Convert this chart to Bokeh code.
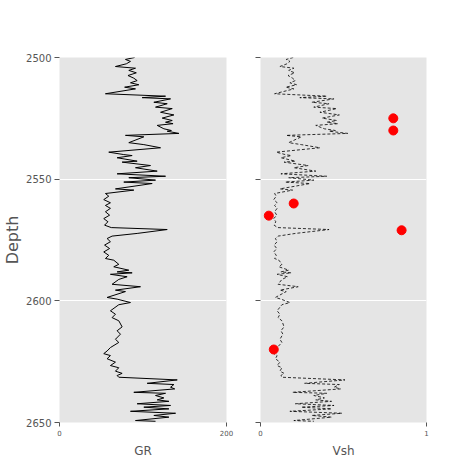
from bokeh.plotting import figure
from bokeh.layouts import row
from bokeh.models import Range1d, FixedTicker
from bokeh.embed import file_html
from bokeh.resources import INLINE

# ---- data ----
depth = [2500.0, 2500.8, 2501.6, 2502.6, 2503.7, 2504.4, 2505.3, 2506.3, 2507.4, 2508.5,
         2509.5, 2510.4, 2511.2, 2512.2, 2512.9, 2514.9, 2515.9, 2516.5, 2517.0, 2518.4,
         2519.0, 2520.4, 2521.0, 2522.5, 2523.6, 2524.9, 2525.9, 2526.6, 2527.2, 2527.9,
         2529.3, 2530.0, 2530.3, 2531.2, 2532.0, 2532.6, 2535.0, 2535.8, 2537.1, 2538.9,
         2539.9, 2540.3, 2541.2, 2542.6, 2543.0, 2544.4, 2545.3, 2546.7, 2547.8, 2548.8,
         2549.4, 2550.4, 2551.2, 2551.8, 2554.0, 2554.5, 2555.9, 2557.0, 2558.4, 2559.7,
         2560.8, 2562.0, 2563.4, 2564.8, 2566.2, 2567.5, 2568.9, 2569.9, 2570.7, 2572.3,
         2573.4, 2574.4, 2575.7, 2577.1, 2578.5, 2579.9, 2581.3, 2582.6, 2583.3, 2585.0,
         2586.0, 2587.4, 2588.1, 2588.5, 2589.1, 2590.1, 2591.2, 2593.2, 2594.2, 2595.6,
         2596.2, 2598.6, 2599.3, 2600.7, 2601.6, 2604.1, 2605.5, 2606.9, 2608.2, 2610.7,
         2612.3, 2613.7, 2615.8, 2617.1, 2619.2, 2620.6, 2621.7, 2622.5, 2623.8, 2625.2,
         2626.6, 2627.5, 2628.9, 2629.8, 2630.7, 2631.4, 2632.5, 2633.9, 2634.4, 2635.5,
         2636.2, 2637.6, 2638.0, 2638.9, 2639.9, 2640.7, 2641.3, 2642.3, 2643.0, 2643.7,
         2644.4, 2645.4, 2646.2, 2647.1, 2647.8, 2649.2, 2649.5]

gr = [90, 79, 85, 80, 67, 91, 83, 92, 82, 89,
      93, 85, 95, 78, 91, 55, 127, 99, 133, 113,
      129, 115, 135, 121, 137, 123, 135, 127, 136, 117,
      125, 134, 129, 143, 79, 101, 83, 101, 121, 59,
      77, 87, 69, 93, 75, 109, 91, 117, 69, 127,
      83, 115, 77, 111, 67, 89, 55, 59, 53, 61,
      55, 61, 55, 60, 53, 58, 54, 62, 129, 93,
      63, 57, 61, 54, 60, 53, 59, 55, 65, 71,
      65, 83, 69, 87, 61, 81, 71, 63, 97, 67,
      79, 57, 69, 85, 71, 61, 67, 63, 71, 75,
      69, 73, 67, 71, 61, 57, 53, 61, 57, 67,
      61, 71, 67, 75, 69, 71, 141, 105, 137, 133,
      138, 89, 127, 115, 125, 117, 131, 93, 133, 101,
      131, 85, 139, 113, 131, 91, 115]

vsh = [0.197, 0.155, 0.177, 0.159, 0.117, 0.201, 0.170, 0.206, 0.166, 0.193,
       0.210, 0.177, 0.218, 0.152, 0.201, 0.085, 0.399, 0.237, 0.443, 0.309,
       0.413, 0.321, 0.459, 0.358, 0.475, 0.371, 0.459, 0.399, 0.467, 0.333,
       0.385, 0.451, 0.413, 0.526, 0.155, 0.246, 0.170, 0.246, 0.358, 0.095,
       0.149, 0.185, 0.123, 0.210, 0.142, 0.287, 0.201, 0.333, 0.123, 0.399,
       0.170, 0.321, 0.149, 0.298, 0.117, 0.193, 0.085, 0.095, 0.080, 0.100,
       0.085, 0.100, 0.085, 0.098, 0.080, 0.092, 0.082, 0.103, 0.413, 0.210,
       0.106, 0.090, 0.100, 0.082, 0.098, 0.080, 0.095, 0.085, 0.111, 0.129,
       0.111, 0.170, 0.123, 0.185, 0.100, 0.163, 0.129, 0.106, 0.227, 0.117,
       0.155, 0.090, 0.123, 0.177, 0.129, 0.100, 0.117, 0.106, 0.129, 0.142,
       0.123, 0.135, 0.117, 0.129, 0.100, 0.090, 0.080, 0.100, 0.090, 0.117,
       0.100, 0.129, 0.117, 0.142, 0.123, 0.129, 0.509, 0.266, 0.475, 0.443,
       0.483, 0.193, 0.399, 0.321, 0.385, 0.333, 0.428, 0.210, 0.443, 0.246,
       0.428, 0.177, 0.491, 0.309, 0.428, 0.201, 0.321]

core_vsh = [0.80, 0.80, 0.20, 0.05, 0.85, 0.08]
core_depth = [2525, 2530, 2560, 2565, 2571, 2620]

depth_ticks = [2500, 2550, 2600, 2650]
gr_ticks = [0, 200]
vsh_ticks = [0, 1]

TXT = "#555555"
FONT = "DejaVu Sans"


def style(p, xticks):
    p.background_fill_color = "#E5E5E5"
    p.border_fill_color = "white"
    p.outline_line_color = None
    p.xaxis.ticker = FixedTicker(ticks=xticks)
    p.yaxis.ticker = FixedTicker(ticks=depth_ticks)
    p.xgrid.grid_line_color = None
    p.ygrid.grid_line_color = "white"
    p.ygrid.grid_line_width = 1.2
    for ax in (p.xaxis[0], p.yaxis[0]):
        ax.axis_line_color = None
        ax.major_tick_line_color = TXT
        ax.major_tick_in = 0
        ax.minor_tick_line_color = None
        ax.major_label_text_color = TXT
        ax.major_label_text_font = FONT
        ax.axis_label_text_color = TXT
        ax.axis_label_text_font = FONT
        ax.axis_label_text_font_style = "normal"
    p.xaxis.major_tick_out = 4
    p.xaxis.major_label_standoff = 3
    p.xaxis.major_label_text_font_size = "7px"
    p.xaxis.axis_label_text_font_size = "12px"
    p.xaxis.axis_label_standoff = 5
    p.yaxis.major_tick_out = 5
    p.yaxis.major_label_standoff = 3
    p.yaxis.major_label_text_font_size = "10px"


p1 = figure(width=236, height=466, x_range=Range1d(0, 200), y_range=Range1d(2650, 2500),
            output_backend="svg", toolbar_location=None,
            min_border_left=59, min_border_right=10, min_border_top=57, min_border_bottom=44)
style(p1, gr_ticks)
p1.xaxis.axis_label = "GR"
p1.yaxis.axis_label = "Depth"
p1.yaxis.axis_label_text_font_size = "16px"
p1.yaxis.axis_label_standoff = 1
p1.line(gr, depth, line_color="black", line_width=1)

p2 = figure(width=230, height=466, x_range=Range1d(0, 1), y_range=p1.y_range,
            output_backend="svg", toolbar_location=None,
            min_border_left=24, min_border_right=40, min_border_top=57, min_border_bottom=44)
style(p2, vsh_ticks)
p2.xaxis.axis_label = "Vsh"
p2.yaxis.major_label_overrides = {t: "" for t in depth_ticks}
p2.line(vsh, depth, line_color="black", line_width=0.8, line_dash="3 2")
p2.scatter(core_vsh, core_depth, size=9, fill_color="red", line_color="red")

layout = row(p1, p2)
open("out.html", "w").write(file_html(layout, INLINE))
